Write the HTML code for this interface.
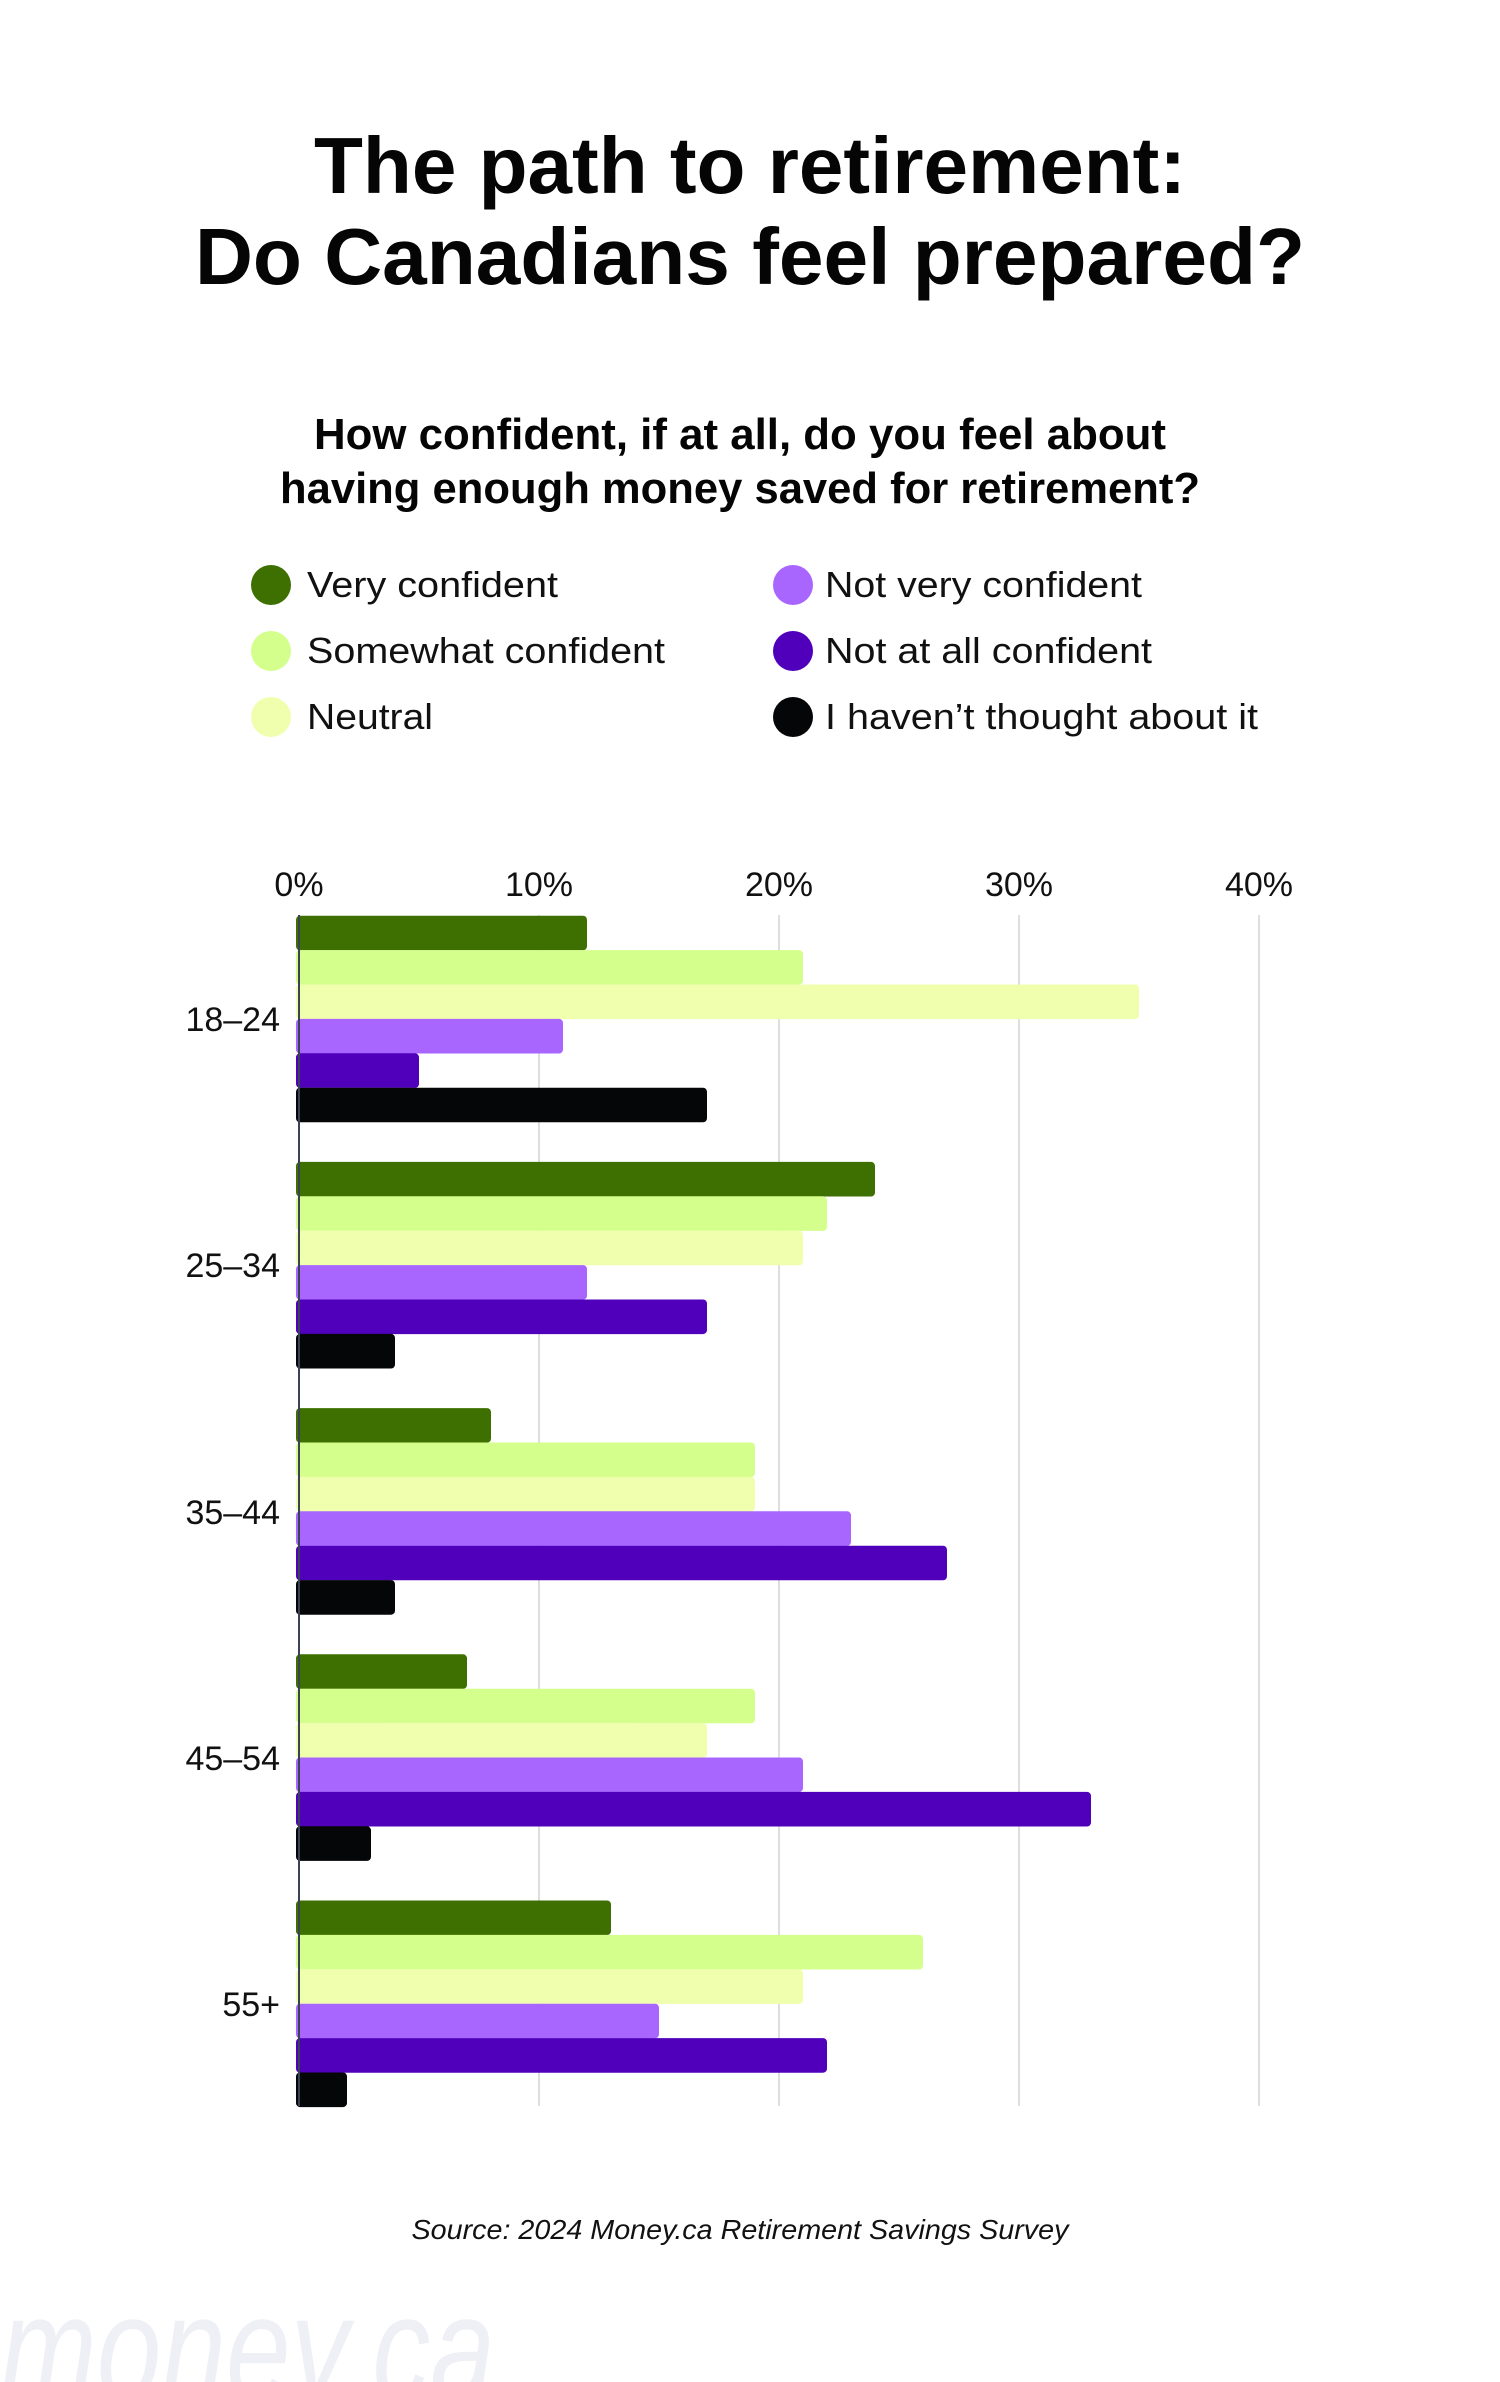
<!DOCTYPE html>
<html><head><meta charset="utf-8"><style>html,body{margin:0;padding:0;background:#fff}svg{display:block}</style></head>
<body>
<svg width="1500" height="2382" viewBox="0 0 1500 2382" xmlns="http://www.w3.org/2000/svg" font-family="Liberation Sans, sans-serif">
<rect width="1500" height="2382" fill="#fff"/>
<text x="750" y="193" text-anchor="middle" font-size="80" font-weight="bold" fill="#050505" textLength="872" lengthAdjust="spacingAndGlyphs">The path to retirement:</text>
<text x="750" y="284" text-anchor="middle" font-size="80" font-weight="bold" fill="#050505" textLength="1110" lengthAdjust="spacingAndGlyphs">Do Canadians feel prepared?</text>
<text x="740" y="449" text-anchor="middle" font-size="44" font-weight="bold" fill="#050505" textLength="852" lengthAdjust="spacingAndGlyphs">How confident, if at all, do you feel about</text>
<text x="740" y="503" text-anchor="middle" font-size="44" font-weight="bold" fill="#050505" textLength="920" lengthAdjust="spacingAndGlyphs">having enough money saved for retirement?</text>
<g font-size="36" fill="#111">
<circle cx="271" cy="585" r="20" fill="#3d7000"/><text x="307" y="597" textLength="251" lengthAdjust="spacingAndGlyphs">Very confident</text>
<circle cx="271" cy="651" r="20" fill="#d4ff8c"/><text x="307" y="663" textLength="358" lengthAdjust="spacingAndGlyphs">Somewhat confident</text>
<circle cx="271" cy="717" r="20" fill="#f0ffae"/><text x="307" y="729" textLength="126" lengthAdjust="spacingAndGlyphs">Neutral</text>
<circle cx="793" cy="585" r="20" fill="#a866ff"/><text x="825" y="597" textLength="317" lengthAdjust="spacingAndGlyphs">Not very confident</text>
<circle cx="793" cy="651" r="20" fill="#5000bb"/><text x="825" y="663" textLength="327" lengthAdjust="spacingAndGlyphs">Not at all confident</text>
<circle cx="793" cy="717" r="20" fill="#050608"/><text x="825" y="729" textLength="433" lengthAdjust="spacingAndGlyphs">I haven’t thought about it</text>
</g>
<g stroke="#dedede" stroke-width="2">
<line x1="539" y1="915" x2="539" y2="2106"/><line x1="779" y1="915" x2="779" y2="2106"/><line x1="1019" y1="915" x2="1019" y2="2106"/><line x1="1259" y1="915" x2="1259" y2="2106"/>
</g>
<g font-size="34" fill="#111" text-anchor="middle">
<text x="299" y="896">0%</text><text x="539" y="896">10%</text><text x="779" y="896">20%</text><text x="1019" y="896">30%</text><text x="1259" y="896">40%</text>
</g>
<g id="bars"></g>
<g font-size="34" fill="#111" text-anchor="end">
<text x="280" y="1031">18–24</text><text x="280" y="1277">25–34</text><text x="280" y="1524">35–44</text><text x="280" y="1770">45–54</text><text x="280" y="2016">55+</text>
</g>
<line x1="299" y1="915" x2="299" y2="2106" stroke="#3a4255" stroke-width="2"/>
<text x="740" y="2239" text-anchor="middle" font-size="28" font-style="italic" fill="#111" textLength="657" lengthAdjust="spacingAndGlyphs">Source: 2024 Money.ca Retirement Savings Survey</text>
<text x="0" y="2400" font-size="150" font-style="italic" fill="#eef0f5" textLength="495" lengthAdjust="spacingAndGlyphs">money.ca</text>
</svg>
<script>
var d=[[12,21,35,11,5,17],[24,22,21,12,17,4],[8,19,19,23,27,4],[7,19,17,21,33,3],[13,26,21,15,22,2]];
var c=["#3d7000","#d4ff8c","#f0ffae","#a866ff","#5000bb","#050608"];
var g=document.getElementById("bars"),s="";
for(var i=0;i<5;i++)for(var j=0;j<6;j++){var y=915.7+i*246.2+j*34.4,w=d[i][j]*24;
s+='<rect x="296" y="'+y.toFixed(1)+'" width="'+(w+3)+'" height="34.6" rx="4" fill="'+c[j]+'"/>';}
g.innerHTML=s;
</script>
</body></html>
